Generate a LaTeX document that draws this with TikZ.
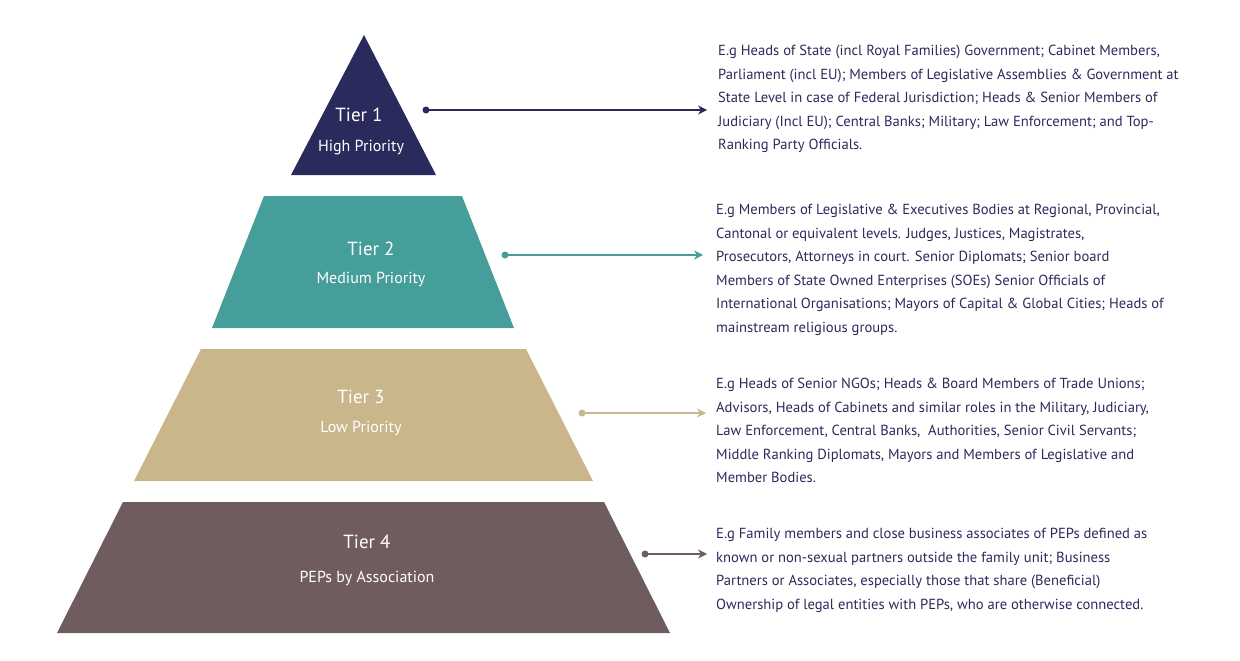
\documentclass[tikz,border=0pt]{standalone}
\usepackage{fontspec}
\setmainfont{PT Sans}
\usetikzlibrary{arrows.meta}
\definecolor{cA}{HTML}{2B2A5C}
\definecolor{cB}{HTML}{459E9A}
\definecolor{cC}{HTML}{C9B68A}
\definecolor{cD}{HTML}{6E5C5E}
\begin{document}
\begin{tikzpicture}[x=1pt,y=-1pt,
  lab/.style={text=white,font=\fontsize{19}{22}\selectfont},
  sub/.style={text=white,font=\fontsize{16}{19}\selectfont},
  desc/.style={anchor=north west,inner sep=0pt,align=left,text=cA,font=\fontsize{14.6}{23.6}\selectfont},
  conn/.style={line width=1.1pt,-{Stealth[length=9pt,width=9pt]}}]
\useasboundingbox (0,0) rectangle (1240,661);
\fill[cA] (364,35) -- (436,175) -- (291,175) -- cycle;
\fill[cB] (264,196) -- (462,196) -- (514,328) -- (212,328) -- cycle;
\fill[cC] (201,349) -- (526,349) -- (593,481) -- (134,481) -- cycle;
\fill[cD] (123,502) -- (604,502) -- (670,633) -- (57,633) -- cycle;
\node[lab] (t1) at (359,115) {Tier 1};
\node[sub] (p1) at (361,148) {High Priority};
\node[lab] (t2) at (371,249) {Tier 2};
\node[sub] (p2) at (371,279) {Medium Priority};
\node[lab] (t3) at (361,397) {Tier 3};
\node[sub] (p3) at (361,428) {Low Priority};
\node[lab] (t4) at (367,542) {Tier 4};
\node[sub] (p4) at (367,578) {PEPs by Association};
\coordinate (a1) at (426,110); \coordinate (b1) at (707,110);
\coordinate (a2) at (505,255); \coordinate (b2) at (703,255);
\coordinate (a3) at (582,413); \coordinate (b3) at (706,413);
\coordinate (a4) at (645,554); \coordinate (b4) at (707,554);
\fill[cA] (a1) circle (3.5); \draw[conn,cA] (a1) -- (b1);
\fill[cB] (a2) circle (3.5); \draw[conn,cB] (a2) -- (b2);
\fill[cC] (a3) circle (3.5); \draw[conn,cC] (a3) -- (b3);
\fill[cD] (a4) circle (3.5); \draw[conn,cD] (a4) -- (b4);
\node[desc] (d1) at (718,45) {E.g Heads of State (incl Royal Families) Government; Cabinet Members,\\Parliament (incl EU); Members of Legislative Assemblies \& Government at\\State Level in case of Federal Jurisdiction; Heads \& Senior Members of\\Judiciary (Incl EU); Central Banks; Military; Law Enforcement; and Top-\\Ranking Party Officials.};
\node[desc] (d2) at (716,204) {E.g Members of Legislative \& Executives Bodies at Regional, Provincial,\\Cantonal or equivalent levels. Judges, Justices, Magistrates,\\Prosecutors, Attorneys in court. Senior Diplomats; Senior board\\Members of State Owned Enterprises (SOEs) Senior Officials of\\International Organisations; Mayors of Capital \& Global Cities; Heads of\\mainstream religious groups.};
\node[desc] (d3) at (716,378) {E.g Heads of Senior NGOs; Heads \& Board Members of Trade Unions;\\Advisors, Heads of Cabinets and similar roles in the Military, Judiciary,\\Law Enforcement, Central Banks,\ \ Authorities, Senior Civil Servants;\\Middle Ranking Diplomats, Mayors and Members of Legislative and\\Member Bodies.};
\node[desc] (d4) at (716,528) {E.g Family members and close business associates of PEPs defined as\\known or non-sexual partners outside the family unit; Business\\Partners or Associates, especially those that share (Beneficial)\\Ownership of legal entities with PEPs, who are otherwise connected.};
\end{tikzpicture}
\end{document}
